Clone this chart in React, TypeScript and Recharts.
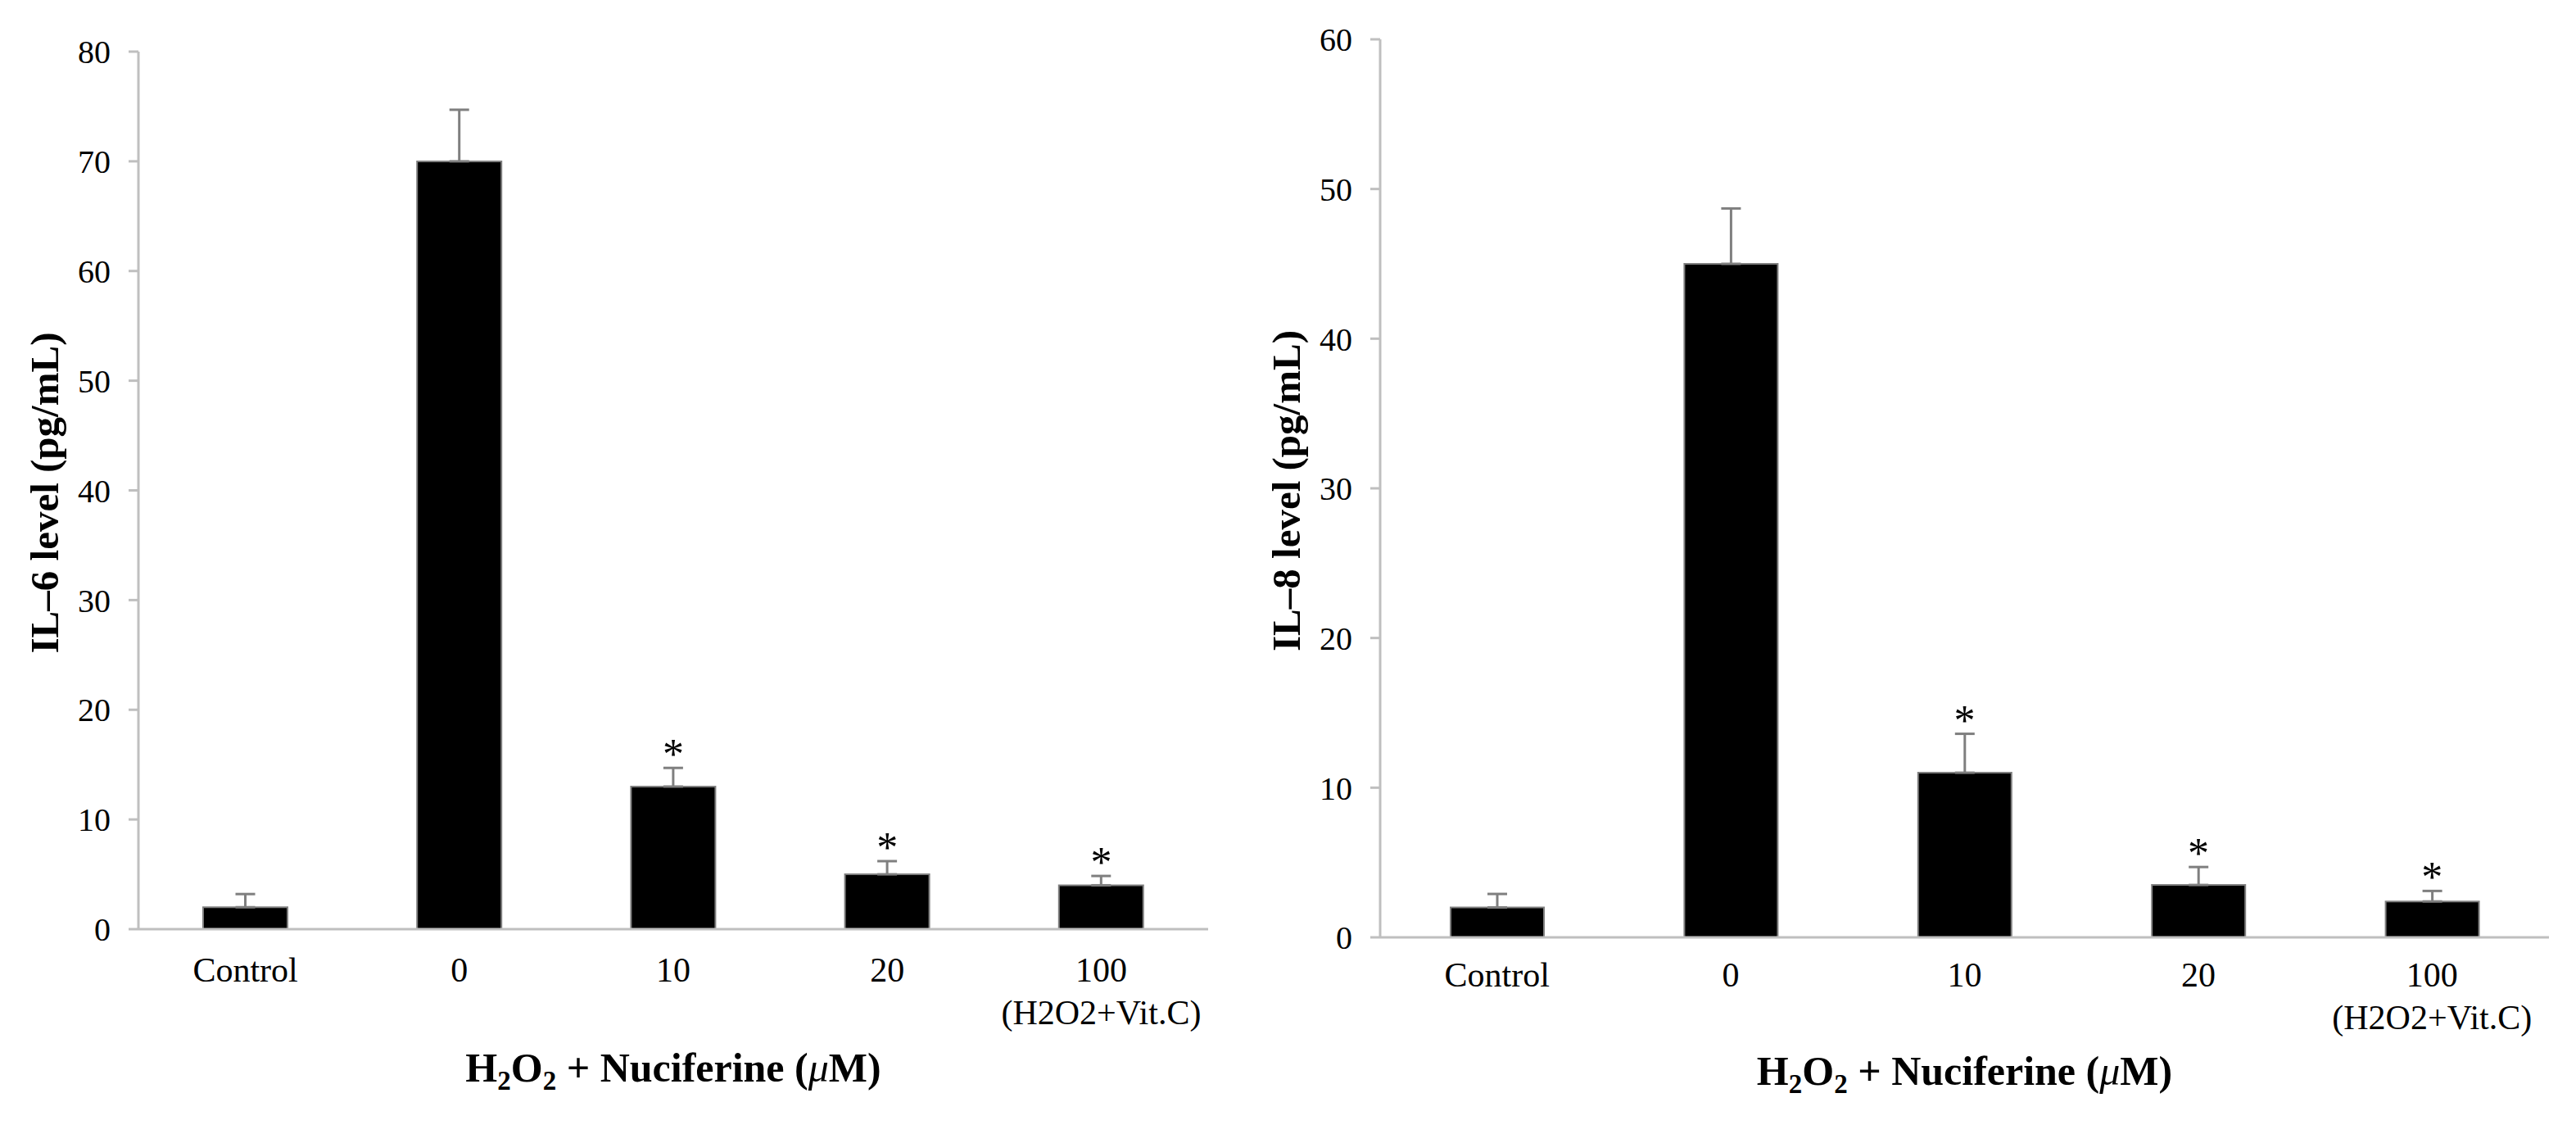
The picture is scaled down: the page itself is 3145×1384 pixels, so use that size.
import React from "react";
import {
  ComposedChart,
  Bar,
  ErrorBar,
  Scatter,
  XAxis,
  YAxis,
  Label,
} from "recharts";

const categories = ["Control", "0", "10", "20", "100"];
const categoryNotes = ["", "", "", "", "(H2O2+Vit.C)"];

const il6Mean = [2, 70, 13, 5, 4];
const il6Err = [1.2, 4.7, 1.7, 1.2, 0.85];
const il6Sig = [false, false, true, true, true];
const il6Ticks = [0, 10, 20, 30, 40, 50, 60, 70, 80];

const il8Mean = [2, 45, 11, 3.5, 2.4];
const il8Err = [0.9, 3.7, 2.6, 1.2, 0.7];
const il8Sig = [false, false, true, true, true];
const il8Ticks = [0, 10, 20, 30, 40, 50, 60];

const FONT = '"Liberation Serif", "Times New Roman", serif';
const AXIS = "#bfbfbf";
const GREY = "#7f7f7f";

const buildRows = (mean: number[], err: number[], sig: boolean[]) =>
  categories.map((name, i) => ({
    name,
    mean: mean[i],
    err: [0, err[i]],
    star: sig[i] ? mean[i] + err[i] : null,
  }));

const CategoryTick = (props: any) => {
  const { x, y, payload, base } = props;
  const idx = categories.indexOf(payload.value);
  const note = categoryNotes[idx];
  return (
    <g>
      <text x={x} y={y + base} textAnchor="middle" fontFamily={FONT} fontSize={42} fill="#000">
        {payload.value}
      </text>
      {note ? (
        <text x={x} y={y + base + 52} textAnchor="middle" fontFamily={FONT} fontSize={42} fill="#000">
          {note}
        </text>
      ) : null}
    </g>
  );
};

// asterisk sitting just above the error bar cap
const Star = (props: any) => {
  const { cx, cy, payload } = props;
  if (payload == null || payload.star == null || cy == null || isNaN(cy)) return <g />;
  return (
    <text x={cx} y={cy + 1} textAnchor="middle" fontFamily={FONT} fontSize={52} fill="#000">
      *
    </text>
  );
};

const XTitle = (props: any) => {
  const vb = props.viewBox;
  return (
    <text
      x={vb.x + vb.width / 2}
      y={vb.y + props.offsetY}
      textAnchor="middle"
      fontFamily={FONT}
      fontWeight="bold"
      fontSize={50}
      fill="#000"
    >
      <tspan>H</tspan>
      <tspan fontSize={33} dy={10}>2</tspan>
      <tspan dy={-10}>O</tspan>
      <tspan fontSize={33} dy={10}>2</tspan>
      <tspan dy={-10}>{" + Nuciferine ("}</tspan>
      <tspan fontStyle="italic" fontWeight="normal">μ</tspan>
      <tspan>M)</tspan>
    </text>
  );
};

const YTitle = (props: any) => {
  const vb = props.viewBox;
  const cx = vb.x + props.offsetX;
  const cy = vb.y + vb.height / 2 + 3;
  return (
    <text
      x={cx}
      y={cy}
      transform={`rotate(-90, ${cx}, ${cy})`}
      textAnchor="middle"
      dominantBaseline="central"
      fontFamily={FONT}
      fontWeight="bold"
      fontSize={49}
      fill="#000"
    >
      {props.text}
    </text>
  );
};

type PanelProps = {
  left: number;
  width: number;
  top: number;
  axisWidth: number;
  rightGap: number;
  xAxisHeight: number;
  rows: any[];
  yMax: number;
  ticks: number[];
  yTitle: string;
  titleX: number;
  barSize: number;
  tickBase: number;
  xTitleY: number;
};

const Panel = (p: PanelProps) => (
  <div style={{ position: "absolute", left: p.left, top: 0 }}>
    <ComposedChart
      width={p.width}
      height={1384}
      data={p.rows}
      margin={{ top: p.top, right: p.rightGap, bottom: 0, left: 0 }}
    >
      <XAxis
        dataKey="name"
        height={p.xAxisHeight}
        stroke={AXIS}
        strokeWidth={3}
        tickLine={false}
        tickSize={0}
        tickMargin={0}
        interval={0}
        tick={(t: any) => <CategoryTick {...t} base={p.tickBase} />}
      >
        <Label content={(lp: any) => <XTitle {...lp} offsetY={p.xTitleY} />} />
      </XAxis>
      <YAxis
        width={p.axisWidth}
        domain={[0, p.yMax]}
        ticks={p.ticks}
        interval={0}
        stroke={AXIS}
        strokeWidth={3}
        tickSize={12}
        tickMargin={22}
        tickLine={{ stroke: AXIS, strokeWidth: 3 }}
        tick={{ fill: "#000", fontSize: 40, fontFamily: FONT }}
      >
        <Label content={(lp: any) => <YTitle {...lp} offsetX={p.titleX} text={p.yTitle} />} />
      </YAxis>
      <Bar
        dataKey="mean"
        fill="#000"
        stroke={GREY}
        strokeWidth={2}
        barSize={p.barSize}
        isAnimationActive={false}
      >
        <ErrorBar dataKey="err" direction="y" width={12} stroke={GREY} strokeWidth={3} />
      </Bar>
      <Scatter dataKey="star" shape={<Star />} isAnimationActive={false} />
    </ComposedChart>
  </div>
);

export default function App() {
  const il6Rows = buildRows(il6Mean, il6Err, il6Sig);
  const il8Rows = buildRows(il8Mean, il8Err, il8Sig);
  return (
    <div style={{ position: "absolute", left: 0, top: 0, width: 3145, height: 1384, background: "#fff" }}>
      <Panel
        left={0}
        width={1540}
        top={63}
        axisWidth={169}
        rightGap={65}
        xAxisHeight={250}
        rows={il6Rows}
        yMax={80}
        ticks={il6Ticks}
        yTitle="IL–6 level (pg/mL)"
        titleX={54}
        barSize={103}
        tickBase={64}
        xTitleY={186}
      />
      <Panel
        left={1500}
        width={1645}
        top={48}
        axisWidth={185}
        rightGap={33}
        xAxisHeight={240}
        rows={il8Rows}
        yMax={60}
        ticks={il8Ticks}
        yTitle="IL–8 level (pg/mL)"
        titleX={70}
        barSize={114}
        tickBase={60}
        xTitleY={180}
      />
    </div>
  );
}
